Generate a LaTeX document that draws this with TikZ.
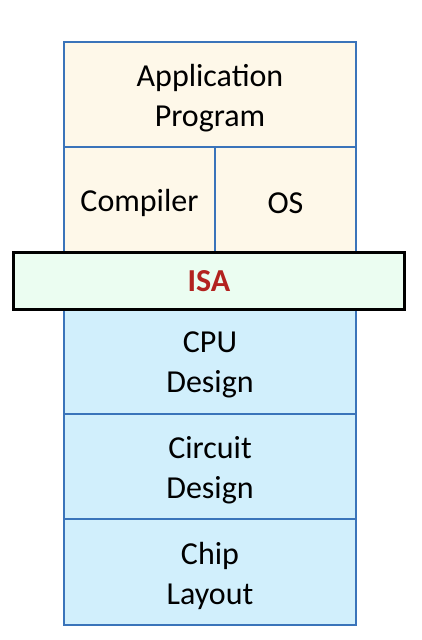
\documentclass[tikz,border=0pt]{standalone}
\usepackage{fontspec}
\setmainfont{Carlito}
\usetikzlibrary{positioning}

\definecolor{layerblue}{HTML}{3A74BA}
\definecolor{softcream}{HTML}{FEF8E9}
\definecolor{isagreen}{HTML}{EBFDF1}
\definecolor{hwblue}{HTML}{D1EFFC}
\definecolor{isared}{HTML}{B3221F}

\tikzset{
  layertext/.style={align=center, inner sep=0pt, yshift=-3.5pt,
    font=\fontsize{32}{40}\selectfont},
  layer/.style={draw=layerblue, line width=2.5pt, inner sep=0pt, outer sep=0pt,
    anchor=north west, label={[layertext]center:#1}},
  swlayer/.style={layer=#1, fill=softcream, minimum height=105pt},
  hwlayer/.style={layer=#1, fill=hwblue, minimum width=292pt, minimum height=105pt},
}

\begin{document}
\begin{tikzpicture}[x=1pt,y=-1pt]
  \useasboundingbox (0,0) rectangle (422,640);
  % software side
  \node[swlayer={Application\\Program}, minimum width=292pt] (app) at (64,42) {};
  \node[swlayer=Compiler, minimum width=151pt] (compiler) at (app.south west) {};
  \node[swlayer=OS, minimum width=141pt] (os) at (compiler.north east) {};
  % hardware side
  \node[hwlayer={CPU\\Design}, minimum height=104.5pt] (cpu) at (64,309.5) {};
  \node[hwlayer={Circuit\\Design}] (circuit) at (cpu.south west) {};
  \node[hwlayer={Chip\\Layout}, minimum height=106pt] (chip) at (circuit.south west) {};
  % the interface in between
  \node[draw=black, line width=3pt, fill=isagreen, inner sep=0pt, outer sep=0pt,
    minimum width=391pt, minimum height=57.5pt, anchor=north west,
    font=\fontsize{32}{40}\selectfont\bfseries, text=isared] (isa) at (13.5,252) {ISA};
\end{tikzpicture}
\end{document}
